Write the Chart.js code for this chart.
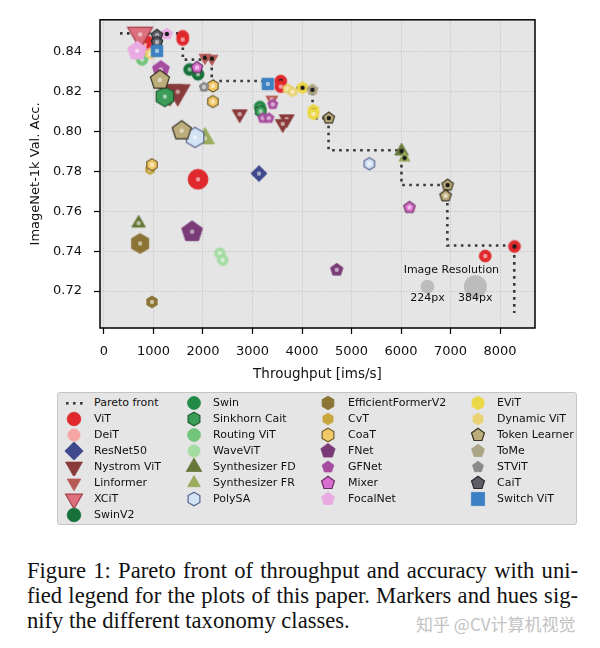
<!DOCTYPE html>
<html>
<head>
<meta charset="utf-8">
<script src="https://cdn.jsdelivr.net/npm/chart.js@4.4.1/dist/chart.umd.min.js"></script>
<style>
  body { margin: 0; background: #fff; width: 600px; height: 648px; overflow: hidden; font-family: "DejaVu Sans", sans-serif; }
  #wrap { position: absolute; left: 0; top: 0; width: 600px; height: 400px; }
  #legend { position: absolute; left: 57px; top: 392px; width: 520px; height: 133px; background: #e5e5e5; border: 1px solid #c4c4c4; border-radius: 3px; box-sizing: border-box; }
  .mk { position: absolute; }
  .lb { position: absolute; font-size: 11px; line-height: 16px; height: 16px; color: #111; white-space: nowrap; }
  #caption { position: absolute; left: 27px; top: 558px; width: 551px; font-family: "Liberation Serif", "Times New Roman", serif; font-size: 22.6px; line-height: 25px; color: #111; }
  .ln { text-align: justify; text-align-last: justify; height: 25px; white-space: nowrap; }
  .ln.last { text-align-last: left; }
  #mark { position: absolute; left: 416px; top: 611px; font-family: "Noto Sans CJK SC", sans-serif; font-size: 17px; color: #c2c2c2; white-space: nowrap; }
</style>
</head>
<body>
<div id="wrap"><canvas id="chart" width="600" height="400"></canvas></div>
<div id="legend"></div>
<div id="caption">
  <div class="ln">Figure 1: Pareto front of throughput and accuracy with uni-</div>
  <div class="ln">fied legend for the plots of this paper. Markers and hues sig-</div>
  <div class="ln last">nify the different taxonomy classes.</div>
</div>
<div id="mark">知乎 @CV计算机视觉</div>
<script>
// values (throughput in ims/s, top-1 accuracy, image resolution)
const models = ["ViT", "DeiT", "ResNet50", "Nystrom ViT", "Linformer", "XCiT", "SwinV2",
  "Swin", "Sinkhorn Cait", "Routing ViT", "WaveViT", "Synthesizer FD", "Synthesizer FR", "PolySA",
  "EfficientFormerV2", "CvT", "CoaT", "FNet", "GFNet", "Mixer", "FocalNet",
  "EViT", "Dynamic ViT", "Token Learner", "ToMe", "STViT", "CaiT", "Switch ViT"];

const throughput = [
  [830, 970, 1590, 1590, 3570, 3570, 1900, 7700, 8290],
  [960],
  [3130],
  [1330, 1490, 2740, 3690, 3610],
  [2040, 2180, 3390],
  [730],
  [1730, 1900],
  [3150],
  [1230, 3165],
  [770],
  [2340, 2400],
  [700, 6010],
  [2040, 6070],
  [1840, 5360],
  [730, 970],
  [930],
  [970, 2200, 2200],
  [1780, 4700],
  [1150, 3410, 3210, 3330],
  [1880, 6170],
  [670, 1270],
  [4010, 4230, 4230],
  [3710, 3810, 930],
  [1570, 1130, 4540, 6940, 6900],
  [4210],
  [2020],
  [1070, 1070],
  [3310, 1070]
];

const accuracy = [
  [0.8434, 0.8410, 0.8478, 0.8462, 0.8254, 0.8226, 0.7761, 0.7376, 0.7424],
  [0.8395],
  [0.7790],
  [0.8200, 0.8200, 0.8088, 0.8063, 0.8039],
  [0.8371, 0.8366, 0.8161],
  [0.8488],
  [0.8312, 0.8288],
  [0.8125],
  [0.8176, 0.8102],
  [0.8361],
  [0.7390, 0.7356],
  [0.7541, 0.7902],
  [0.7966, 0.7868],
  [0.7971, 0.7839],
  [0.7439, 0.7146],
  [0.7810],
  [0.7834, 0.8229, 0.8151],
  [0.7498, 0.7307],
  [0.8312, 0.8137, 0.8068, 0.8068],
  [0.8322, 0.7620],
  [0.8405, 0.8490],
  [0.8220, 0.8107, 0.8088],
  [0.8215, 0.8200, 0.8390],
  [0.8005, 0.8259, 0.8068, 0.7732, 0.7678],
  [0.8210],
  [0.8224],
  [0.8483, 0.8449],
  [0.8239, 0.8405]
];

const resolution = [
  [384, 224, 224, 224, 224, 224, 384, 224, 224],
  [224], [224],
  [384, 384, 224, 224, 224],
  [224, 224, 224],
  [384],
  [224, 224], [224],
  [384, 224],
  [224], [224, 224],
  [224, 224], [384, 224], [384, 224],
  [384, 224], [224], [224, 224, 224],
  [384, 224], [384, 224, 224, 224], [224, 224], [384, 224],
  [224, 224, 224], [224, 224, 224],
  [384, 384, 224, 224, 224],
  [224], [224], [224, 224], [224, 224]
];

const paretoX = [323, 1593, 2177, 3568, 4012, 4213, 4234, 4536, 6008, 6935, 8286, 8286];
const paretoY = [0.8493, 0.8493, 0.8361, 0.8254, 0.8220, 0.8210, 0.8107, 0.8068, 0.7907, 0.7732, 0.7429, 0.709];

const xTicks = [0, 1000, 2000, 3000, 4000, 5000, 6000, 7000, 8000];
const yTicks = [0.72, 0.74, 0.76, 0.78, 0.80, 0.82, 0.84];
const resLabels = [224, 384];

// marker look per model: shape, fill, edge, size factor
const styles = {
  "ViT": ["circle", "#e0292d", null, 1],
  "DeiT": ["circle", "#f6a5a5", null, 0.9],
  "ResNet50": ["diamond", "#3f4a8c", null, 1.35],
  "Nystrom ViT": ["tridown", "#8a3a3a", null, 1.25],
  "Linformer": ["tridown", "#b65a56", null, 1.0],
  "XCiT": ["tridown", "#dc707c", "#a8404c", 1.25],
  "SwinV2": ["circle", "#17703a", null, 1.0],
  "Swin": ["circle", "#238a45", null, 0.95],
  "Sinkhorn Cait": ["hexagon", "#3a9c56", "#1d5a30", 1.0],
  "Routing ViT": ["circle", "#72c47a", null, 0.95],
  "WaveViT": ["circle", "#a4dca2", null, 0.9],
  "Synthesizer FD": ["triup", "#66783a", null, 1.15],
  "Synthesizer FR": ["triup", "#9aac5c", null, 0.95],
  "PolySA": ["hexagon", "#d2e3f4", "#56628e", 1.0],
  "EfficientFormerV2": ["hexagon", "#8c7436", null, 1.0],
  "CvT": ["hexagon", "#c9a53e", null, 0.85],
  "CoaT": ["hexagon", "#f0c866", "#705c2a", 1.0],
  "FNet": ["pentagon", "#793b78", null, 1.1],
  "GFNet": ["pentagon", "#a64c9e", null, 0.9],
  "Mixer": ["pentagon", "#d86ecd", "#6e2c66", 1.0],
  "FocalNet": ["pentagon", "#e9abe1", null, 1.0],
  "EViT": ["hexagon", "#ecd746", null, 1.0],
  "Dynamic ViT": ["hexagon", "#e9d274", null, 0.85],
  "Token Learner": ["pentagon", "#bcad7c", "#3a3322", 1.0],
  "ToMe": ["pentagon", "#aca585", null, 1.0],
  "STViT": ["pentagon", "#8a8a8a", null, 0.85],
  "CaiT": ["pentagon", "#5e5e66", "#2a2a2e", 1.0],
  "Switch ViT": ["square", "#3b80c3", null, 1.1]
};

function radiusFor(res, k) {
  return (res >= 384 ? 10 : 6) * k;
}

function shapePath(ctx, shape, cx, cy, r) {
  ctx.beginPath();
  if (shape === "circle") {
    ctx.arc(cx, cy, r, 0, Math.PI * 2);
  } else if (shape === "square") {
    const s = r * 0.88;
    ctx.rect(cx - s, cy - s, 2 * s, 2 * s);
  } else {
    let n, a0, rr = r;
    if (shape === "diamond") { n = 4; a0 = -Math.PI / 2; }
    if (shape === "triup") { n = 3; a0 = -Math.PI / 2; rr = r * 1.15; }
    if (shape === "tridown") { n = 3; a0 = Math.PI / 2; rr = r * 1.15; }
    if (shape === "pentagon") { n = 5; a0 = -Math.PI / 2; }
    if (shape === "hexagon") { n = 6; a0 = -Math.PI / 2; }
    for (let i = 0; i < n; i++) {
      const a = a0 + i * 2 * Math.PI / n;
      const px = cx + rr * Math.cos(a), py = cy + rr * Math.sin(a);
      i ? ctx.lineTo(px, py) : ctx.moveTo(px, py);
    }
    ctx.closePath();
  }
}

const cache = {};
function marker(name, r, dot) {
  const key = name + r + dot;
  if (cache[key]) return cache[key];
  const [shape, fill, edge] = styles[name];
  const size = Math.ceil(r * 2.6 + 4);
  const c = document.createElement("canvas");
  c.width = size; c.height = size;
  const g = c.getContext("2d");
  const m = size / 2;
  shapePath(g, shape, m, m, r);
  g.fillStyle = fill;
  g.fill();
  g.lineWidth = edge ? 1.2 : 0.8;
  g.strokeStyle = edge || fill;
  g.stroke();
  if (dot) {
    g.beginPath();
    g.arc(m, m, 2.2, 0, Math.PI * 2);
    g.fillStyle = dot;
    g.fill();
  }
  cache[key] = c;
  return c;
}

// flat list of all points for the dominance check
const all = [];
models.forEach((m, i) => throughput[i].forEach((x, j) => all.push([x, accuracy[i][j]])));
function onFront(x, y) {
  return !all.some(([qx, qy]) => (qx !== x || qy !== y) && qx >= x && qy >= y);
}

const datasets = [{
  type: "line",
  label: "Pareto front",
  data: paretoX.map((x, i) => ({ x: x, y: paretoY[i] })),
  stepped: "after",
  borderColor: "#3a3a3a",
  borderWidth: 2.6,
  borderDash: [2.6, 4.4],
  borderCapStyle: "butt",
  pointRadius: 0,
  fill: false,
  order: 100
}];

models.forEach((name, i) => {
  const k = styles[name][3];
  const imgs = throughput[i].map((x, j) => {
    const y = accuracy[i][j];
    const dot = onFront(x, y) ? "#1a1a1a" : "rgba(255,255,255,0.55)";
    return marker(name, radiusFor(resolution[i][j], k), dot);
  });
  datasets.push({
    type: "scatter",
    label: name,
    data: throughput[i].map((x, j) => ({ x: x, y: accuracy[i][j] })),
    pointStyle: (ctx) => imgs[ctx.dataIndex],
    pointRadius: 6,
    order: models.length - i
  });
});

const plotBg = {
  id: "plotBg",
  beforeDraw(chart) {
    const { ctx, chartArea: a } = chart;
    ctx.save();
    ctx.fillStyle = "#e5e5e5";
    ctx.fillRect(a.left, a.top, a.right - a.left, a.bottom - a.top);
    ctx.restore();
  },
  afterDatasetsDraw(chart) {
    // image resolution key inside the plot
    const { ctx, scales: { x, y } } = chart;
    ctx.save();
    ctx.fillStyle = "#111";
    ctx.font = "11px 'DejaVu Sans'";
    ctx.textAlign = "center";
    ctx.textBaseline = "middle";
    ctx.fillText("Image Resolution", x.getPixelForValue(7016), y.getPixelForValue(0.7307));
    const kx = [6532, 7500];
    resLabels.forEach((res, i) => {
      const px = x.getPixelForValue(kx[i]);
      ctx.beginPath();
      ctx.arc(px, y.getPixelForValue(0.7222), radiusFor(res, 1.15), 0, Math.PI * 2);
      ctx.fillStyle = "#bcbcbc";
      ctx.fill();
      ctx.fillStyle = "#111";
      ctx.fillText(res + "px", px, y.getPixelForValue(0.7166));
    });
    ctx.restore();
  },
  afterDraw(chart) {
    const { ctx, chartArea: a } = chart;
    ctx.save();
    ctx.strokeStyle = "#000";
    ctx.lineWidth = 1.5;
    ctx.strokeRect(a.left, a.top, a.right - a.left, a.bottom - a.top);
    ctx.restore();
  }
};

const tickFont = { family: "DejaVu Sans", size: 13 };

new Chart(document.getElementById("chart"), {
  type: "scatter",
  data: { datasets: datasets },
  options: {
    responsive: false,
    animation: false,
    layout: { padding: { left: 0, right: 65, top: 11, bottom: 16 } },
    plugins: { legend: { display: false }, tooltip: { enabled: false } },
    scales: {
      x: {
        type: "linear",
        min: -80,
        max: 8705,
        afterBuildTicks: (s) => { s.ticks = xTicks.map(v => ({ value: v })); },
        afterFit: (s) => { s.height = 56; },
        ticks: { color: "#111", font: tickFont, padding: 10, callback: (v) => String(v) },
        grid: { color: "#c2c2c2", lineWidth: 0.8, tickLength: 6, tickColor: "#000", tickWidth: 1.2 },
        border: { display: false, dash: [1.5, 1.5] },
        title: { display: true, text: "Throughput [ims/s]", color: "#111", font: { family: "DejaVu Sans", size: 13.5 }, padding: { top: 0, bottom: 1 } }
      },
      y: {
        min: 0.7015,
        max: 0.8561,
        afterBuildTicks: (s) => { s.ticks = yTicks.map(v => ({ value: v })); },
        afterFit: (s) => { s.width = 100; },
        ticks: { color: "#111", font: tickFont, padding: 12, callback: (v) => v.toFixed(2) },
        grid: { color: "#c2c2c2", lineWidth: 0.8, tickLength: 6, tickColor: "#000", tickWidth: 1.2 },
        border: { display: false, dash: [1.5, 1.5] },
        title: { display: true, text: "ImageNet-1k Val. Acc.", color: "#111", font: { family: "DejaVu Sans", size: 13 }, padding: { top: 28 } }
      }
    }
  },
  plugins: [plotBg]
});

// legend: 4 columns filled column by column (8, 7, 7, 7 entries)
const legend = document.getElementById("legend");
const entries = ["Pareto front"].concat(models);
const colMarkX = [16, 136, 270, 420];
const colTextX = [36, 155, 290, 439];
const colStart = [0, 8, 15, 22, 29];
entries.forEach((name, n) => {
  let col = 0;
  while (n >= colStart[col + 1]) col++;
  const row = n - colStart[col];
  const cy = 10 + row * 16;
  const cv = document.createElement("canvas");
  cv.width = 24; cv.height = 18;
  cv.className = "mk";
  cv.style.left = (colMarkX[col] - 12) + "px";
  cv.style.top = (cy - 9) + "px";
  const g = cv.getContext("2d");
  if (name === "Pareto front") {
    g.fillStyle = "#3a3a3a";
    [4, 11, 18].forEach(x => g.fillRect(x, 8, 2.6, 2.6));
  } else {
    const [shape, fill, edge, k] = styles[name];
    shapePath(g, shape, 12, 9, 6.8 * k);
    g.fillStyle = fill;
    g.fill();
    g.lineWidth = edge ? 1.2 : 0.8;
    g.strokeStyle = edge || fill;
    g.stroke();
  }
  legend.appendChild(cv);
  const lb = document.createElement("div");
  lb.className = "lb";
  lb.textContent = name;
  lb.style.left = colTextX[col] + "px";
  lb.style.top = (cy - 8) + "px";
  legend.appendChild(lb);
});
</script>
</body>
</html>
